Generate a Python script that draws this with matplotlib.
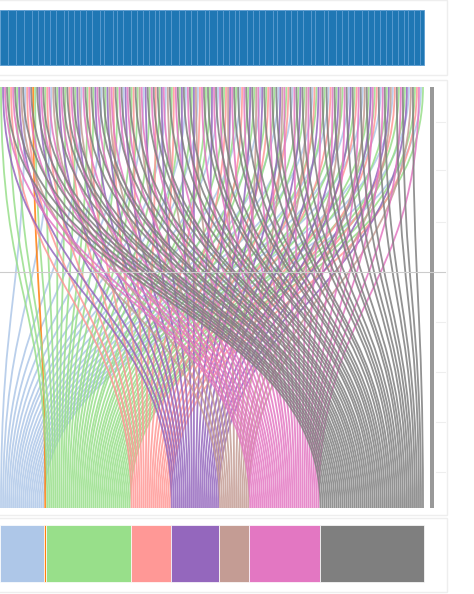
import matplotlib
matplotlib.use("Agg")
import matplotlib.pyplot as plt
import numpy as np
from matplotlib.patches import Rectangle
from matplotlib.path import Path
from matplotlib.patches import PathPatch

N_TOP = 68
categories = ["A", "B", "C", "D", "E", "F", "G", "H"]
colors = ["#aec7e8", "#ff7f0e", "#98df8a", "#ff9896", "#9467bd", "#c49c94", "#e377c2", "#7f7f7f"]
links = {
    "A": [3,7,12,15,19,22,26,29,31,34,38,41,44,46,49,52,55,57,60,62,65,67],
    "B": [4],
    "C": [0,1,2,4,6,8,9,11,13,14,16,18,20,21,23,25,27,28,30,32,33,35,37,39,40,42,43,45,47,48,50,51,53,54,56,58,59,61,63,64,66,67],
    "D": [1,3,6,10,13,17,20,24,27,31,35,38,42,45,49,52,56,59,62,66],
    "E": [0,2,5,8,11,14,16,19,22,25,28,30,33,36,39,41,44,47,50,53,55,58,61,64],
    "F": [2,7,11,16,21,26,30,35,40,44,48,53,57,61,65],
    "G": [0,1,3,5,6,8,10,12,14,16,18,19,21,23,25,27,29,31,33,34,36,38,40,42,44,46,48,50,52,54,56,58,60,63,66],
    "H": [0,1,2,3,4,5,7,8,9,10,12,13,14,15,17,18,19,20,22,23,24,26,27,28,29,31,32,33,34,36,37,38,39,41,42,43,45,46,47,48,50,51,52,54,55,56,57,59,60,62,63,65],
}

W = 424.0
TOPY, BOTY = 87, 508
fig = plt.figure(figsize=(4.74, 5.94), dpi=100)
ax = fig.add_axes([0, 0, 1, 1])
ax.set_xlim(0, 474); ax.set_ylim(594, 0); ax.axis("off")

# panels
for (y0, y1) in [(0, 75), (80, 515), (518, 592)]:
    ax.add_patch(Rectangle((-2, y0), 449, y1 - y0, fill=False, ec="#eeeeee", lw=1))
ax.plot([0, 445], [272, 272], color="#cccccc", lw=0.8)
for yy in [122, 170, 222, 322, 372, 422, 472]:
    ax.plot([436, 445], [yy, yy], color="#eeeeee", lw=0.8)

items = []
for ci, c in enumerate(categories):
    for t in links[c]:
        items.append((t, ci))
n = len(items)
slot = W / n
# top order: by top value, then category
top_order = sorted(range(n), key=lambda i: (items[i][0], items[i][1]))
bot_order = sorted(range(n), key=lambda i: (items[i][1], items[i][0]))
topx = np.empty(n); botx = np.empty(n)
for k, i in enumerate(top_order):
    topx[i] = (k + 0.5) * slot
for k, i in enumerate(bot_order):
    botx[i] = (k + 0.5) * slot

# top bar
counts_top = np.bincount([it[0] for it in items], minlength=N_TOP)
x = 0
for cnt in counts_top:
    w = cnt * slot
    ax.add_patch(Rectangle((x, 10), w, 55, fc="#1f77b4", ec="#5b9bd0", lw=0.6))
    x += w

# curves
mid = (TOPY + BOTY) / 2
for i in top_order[::-1] if False else range(n):
    x0, x1 = topx[i], botx[i]
    p = Path([(x0, TOPY), (x0, mid), (x1, mid), (x1, BOTY)],
             [Path.MOVETO, Path.CURVE4, Path.CURVE4, Path.CURVE4])
    ax.add_patch(PathPatch(p, fill=False, ec=colors[items[i][1]], lw=1.3, alpha=0.85))

ax.add_patch(Rectangle((430, TOPY), 4, BOTY - TOPY, fc="#999999", ec="none"))

# bottom bar
x = 0
for ci, c in enumerate(categories):
    w = len(links[c]) * slot
    ax.add_patch(Rectangle((x, 525), w, 57, fc=colors[ci], ec="white", lw=0.5))
    x += w

fig.savefig("out.png", dpi=100)
